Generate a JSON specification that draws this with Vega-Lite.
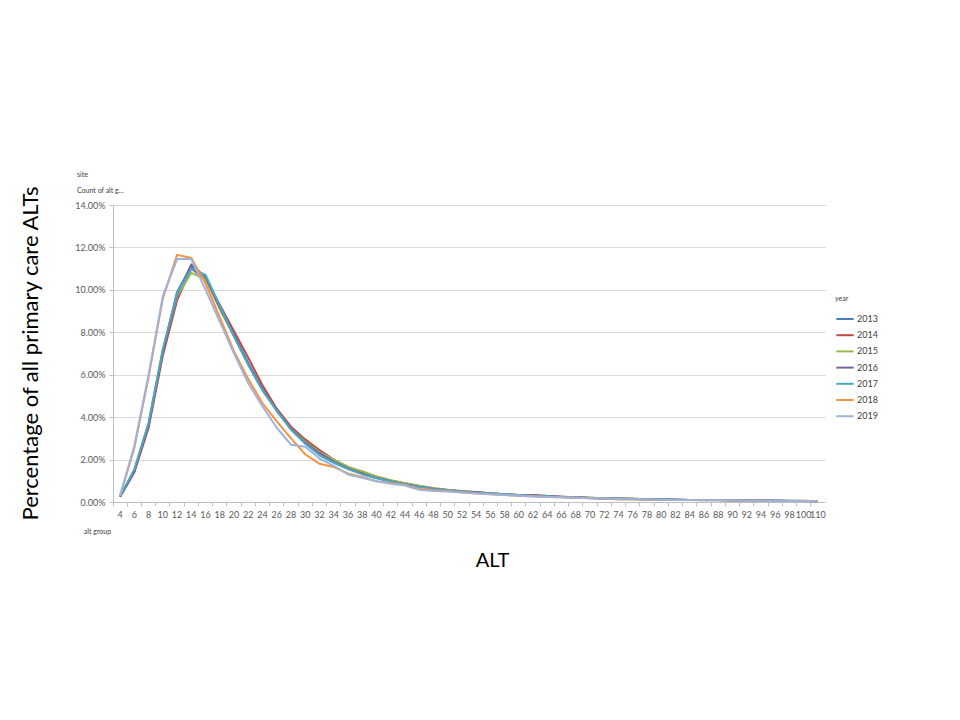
{
  "$schema": "https://vega.github.io/schema/vega-lite/v6.json",
  "description": "ALT distribution in primary care by year, 2013-2019 (Excel pivot chart style).",
  "autosize": {"type": "none"},
  "padding": {"left": 113, "top": 205, "right": 135, "bottom": 218},
  "width": 712,
  "height": 297,
  "background": "white",
  "title": {
    "text": "site",
    "subtitle": "Count of alt g...",
    "anchor": "start",
    "frame": "group",
    "dx": -36,
    "offset": -9,
    "font": "Lato",
    "fontSize": 7,
    "fontWeight": "normal",
    "color": "#404040",
    "subtitleFont": "Lato",
    "subtitleFontSize": 7,
    "subtitleColor": "#404040",
    "subtitlePadding": 9
  },
  "data": {
    "values": [
      {"alt": 4, "2013": 0.25, "2014": 0.25, "2015": 0.26, "2016": 0.25, "2017": 0.27, "2018": 0.30, "2019": 0.30},
      {"alt": 6, "2013": 1.45, "2014": 1.40, "2015": 1.50, "2016": 1.45, "2017": 1.55, "2018": 2.55, "2019": 2.65},
      {"alt": 8, "2013": 3.60, "2014": 3.50, "2015": 3.70, "2016": 3.65, "2017": 3.75, "2018": 5.90, "2019": 6.00},
      {"alt": 10, "2013": 7.10, "2014": 6.90, "2015": 7.20, "2016": 7.10, "2017": 7.20, "2018": 9.60, "2019": 9.70},
      {"alt": 12, "2013": 9.90, "2014": 9.50, "2015": 9.70, "2016": 9.80, "2017": 9.85, "2018": 11.65, "2019": 11.45},
      {"alt": 14, "2013": 11.10, "2014": 11.00, "2015": 10.80, "2016": 11.20, "2017": 11.00, "2018": 11.50, "2019": 11.45},
      {"alt": 16, "2013": 10.65, "2014": 10.50, "2015": 10.50, "2016": 10.60, "2017": 10.70, "2018": 10.30, "2019": 10.00},
      {"alt": 18, "2013": 9.20, "2014": 9.30, "2015": 9.10, "2016": 9.15, "2017": 9.25, "2018": 8.70, "2019": 8.50},
      {"alt": 20, "2013": 7.90, "2014": 8.05, "2015": 7.80, "2016": 7.85, "2017": 7.80, "2018": 7.10, "2019": 7.00},
      {"alt": 22, "2013": 6.55, "2014": 6.80, "2015": 6.50, "2016": 6.50, "2017": 6.45, "2018": 5.80, "2019": 5.60},
      {"alt": 24, "2013": 5.35, "2014": 5.50, "2015": 5.30, "2016": 5.30, "2017": 5.25, "2018": 4.65, "2019": 4.50},
      {"alt": 26, "2013": 4.35, "2014": 4.40, "2015": 4.30, "2016": 4.30, "2017": 4.30, "2018": 3.80, "2019": 3.50},
      {"alt": 28, "2013": 3.50, "2014": 3.55, "2015": 3.45, "2016": 3.45, "2017": 3.40, "2018": 3.00, "2019": 2.70},
      {"alt": 30, "2013": 2.85, "2014": 2.95, "2015": 2.85, "2016": 2.80, "2017": 2.75, "2018": 2.25, "2019": 2.60},
      {"alt": 32, "2013": 2.35, "2014": 2.45, "2015": 2.35, "2016": 2.30, "2017": 2.20, "2018": 1.80, "2019": 2.05},
      {"alt": 34, "2013": 1.95, "2014": 2.00, "2015": 2.00, "2016": 1.90, "2017": 1.85, "2018": 1.65, "2019": 1.70},
      {"alt": 36, "2013": 1.60, "2014": 1.65, "2015": 1.65, "2016": 1.58, "2017": 1.55, "2018": 1.35, "2019": 1.30},
      {"alt": 38, "2013": 1.35, "2014": 1.40, "2015": 1.45, "2016": 1.33, "2017": 1.30, "2018": 1.18, "2019": 1.14},
      {"alt": 40, "2013": 1.15, "2014": 1.20, "2015": 1.20, "2016": 1.13, "2017": 1.12, "2018": 0.98, "2019": 0.98},
      {"alt": 42, "2013": 1.00, "2014": 1.02, "2015": 1.03, "2016": 0.98, "2017": 0.97, "2018": 0.90, "2019": 0.86},
      {"alt": 44, "2013": 0.85, "2014": 0.88, "2015": 0.88, "2016": 0.84, "2017": 0.83, "2018": 0.80, "2019": 0.78},
      {"alt": 46, "2013": 0.72, "2014": 0.75, "2015": 0.77, "2016": 0.72, "2017": 0.71, "2018": 0.62, "2019": 0.58},
      {"alt": 48, "2013": 0.62, "2014": 0.64, "2015": 0.66, "2016": 0.62, "2017": 0.61, "2018": 0.55, "2019": 0.52},
      {"alt": 50, "2013": 0.56, "2014": 0.57, "2015": 0.58, "2016": 0.55, "2017": 0.55, "2018": 0.52, "2019": 0.50},
      {"alt": 52, "2013": 0.50, "2014": 0.51, "2015": 0.52, "2016": 0.50, "2017": 0.49, "2018": 0.46, "2019": 0.45},
      {"alt": 54, "2013": 0.45, "2014": 0.46, "2015": 0.46, "2016": 0.47, "2017": 0.44, "2018": 0.41, "2019": 0.40},
      {"alt": 56, "2013": 0.40, "2014": 0.41, "2015": 0.41, "2016": 0.40, "2017": 0.40, "2018": 0.37, "2019": 0.37},
      {"alt": 58, "2013": 0.36, "2014": 0.37, "2015": 0.37, "2016": 0.36, "2017": 0.36, "2018": 0.33, "2019": 0.33},
      {"alt": 60, "2013": 0.32, "2014": 0.33, "2015": 0.33, "2016": 0.32, "2017": 0.32, "2018": 0.30, "2019": 0.29},
      {"alt": 62, "2013": 0.30, "2014": 0.31, "2015": 0.30, "2016": 0.33, "2017": 0.30, "2018": 0.27, "2019": 0.26},
      {"alt": 64, "2013": 0.27, "2014": 0.28, "2015": 0.27, "2016": 0.28, "2017": 0.27, "2018": 0.24, "2019": 0.24},
      {"alt": 66, "2013": 0.24, "2014": 0.25, "2015": 0.24, "2016": 0.25, "2017": 0.24, "2018": 0.22, "2019": 0.22},
      {"alt": 68, "2013": 0.21, "2014": 0.22, "2015": 0.22, "2016": 0.22, "2017": 0.21, "2018": 0.20, "2019": 0.20},
      {"alt": 70, "2013": 0.19, "2014": 0.20, "2015": 0.20, "2016": 0.19, "2017": 0.19, "2018": 0.18, "2019": 0.18},
      {"alt": 72, "2013": 0.17, "2014": 0.18, "2015": 0.18, "2016": 0.17, "2017": 0.17, "2018": 0.16, "2019": 0.16},
      {"alt": 74, "2013": 0.15, "2014": 0.16, "2015": 0.16, "2016": 0.15, "2017": 0.15, "2018": 0.12, "2019": 0.14},
      {"alt": 76, "2013": 0.14, "2014": 0.15, "2015": 0.15, "2016": 0.14, "2017": 0.15, "2018": 0.12, "2019": 0.13},
      {"alt": 78, "2013": 0.13, "2014": 0.13, "2015": 0.13, "2016": 0.13, "2017": 0.13, "2018": 0.11, "2019": 0.12},
      {"alt": 80, "2013": 0.12, "2014": 0.12, "2015": 0.12, "2016": 0.12, "2017": 0.12, "2018": 0.10, "2019": 0.11},
      {"alt": 82, "2013": 0.11, "2014": 0.11, "2015": 0.11, "2016": 0.11, "2017": 0.11, "2018": 0.10, "2019": 0.10},
      {"alt": 84, "2013": 0.10, "2014": 0.10, "2015": 0.10, "2016": 0.10, "2017": 0.10, "2018": 0.09, "2019": 0.09},
      {"alt": 86, "2013": 0.09, "2014": 0.09, "2015": 0.10, "2016": 0.09, "2017": 0.09, "2018": 0.08, "2019": 0.08},
      {"alt": 88, "2013": 0.09, "2014": 0.10, "2015": 0.09, "2016": 0.10, "2017": 0.09, "2018": 0.08, "2019": 0.08},
      {"alt": 90, "2013": 0.08, "2014": 0.08, "2015": 0.08, "2016": 0.08, "2017": 0.08, "2018": 0.07, "2019": 0.07},
      {"alt": 92, "2013": 0.07, "2014": 0.07, "2015": 0.07, "2016": 0.07, "2017": 0.07, "2018": 0.06, "2019": 0.06},
      {"alt": 94, "2013": 0.07, "2014": 0.07, "2015": 0.07, "2016": 0.06, "2017": 0.07, "2018": 0.06, "2019": 0.06},
      {"alt": 96, "2013": 0.06, "2014": 0.06, "2015": 0.06, "2016": 0.06, "2017": 0.06, "2018": 0.05, "2019": 0.05},
      {"alt": 98, "2013": 0.06, "2014": 0.05, "2015": 0.06, "2016": 0.05, "2017": 0.05, "2018": 0.05, "2019": 0.05},
      {"alt": 100, "2013": 0.05, "2014": 0.06, "2015": 0.05, "2016": 0.05, "2017": 0.05, "2018": 0.05, "2019": 0.04},
      {"alt": 110, "2013": 0.04, "2014": 0.04, "2015": 0.04, "2016": 0.04, "2017": 0.04, "2018": 0.03, "2019": 0.03}
    ]
  },
  "transform": [
    {"fold": ["2013", "2014", "2015", "2016", "2017", "2018", "2019"], "as": ["year", "pct"]}
  ],
  "config": {
    "view": {"stroke": null},
    "font": "Lato"
  },
  "layer": [
    {
      "mark": {"type": "line", "strokeWidth": 2, "strokeJoin": "round"},
      "encoding": {
        "x": {
          "field": "alt",
          "type": "ordinal",
          "scale": {"type": "band", "paddingInner": 0, "paddingOuter": 0},
          "axis": {
            "title": "ALT",
            "titleFont": "Lato",
            "titleFontSize": 20,
            "titleFontWeight": "normal",
            "titleColor": "black",
            "titleX": 379,
            "titleY": 58,
            "titleBaseline": "middle",
            "titleAlign": "center",
            "labelAngle": 0,
            "labelOverlap": false,
            "labelFontSize": 9,
            "labelColor": "#595959",
            "labelPadding": 4,
            "bandPosition": 0,
            "tickSize": 4,
            "tickColor": "#BFBFBF",
            "domainColor": "#BFBFBF",
            "grid": false
          }
        },
        "y": {
          "field": "pct",
          "type": "quantitative",
          "scale": {"domain": [0, 14], "nice": false},
          "axis": {
            "title": "Percentage of all primary care ALTs",
            "titleFont": "Lato",
            "titleFontSize": 22,
            "titleFontWeight": "normal",
            "titleColor": "black",
            "titleX": -83,
            "titleY": 148,
            "titleAngle": -90,
            "titleBaseline": "middle",
            "titleAlign": "center",
            "values": [0, 2, 4, 6, 8, 10, 12, 14],
            "labelExpr": "format(datum.value, '.2f') + '%'",
            "labelFontSize": 9,
            "labelColor": "#595959",
            "labelPadding": 4,
            "tickSize": 4,
            "tickColor": "#BFBFBF",
            "domainColor": "#BFBFBF",
            "gridColor": "#D9D9D9",
            "gridWidth": 1
          }
        },
        "color": {
          "field": "year",
          "type": "nominal",
          "scale": {
            "domain": ["2013", "2014", "2015", "2016", "2017", "2018", "2019"],
            "range": ["#4A7EBB", "#BE4B48", "#98B954", "#7D60A0", "#46AAC5", "#F69240", "#9DB3DD"]
          },
          "legend": {
            "orient": "none",
            "legendX": 722,
            "legendY": 90,
            "title": "year",
            "titleFont": "Lato",
            "titleFontSize": 7,
            "titleFontWeight": "normal",
            "titleColor": "#404040",
            "titlePadding": 7,
            "labelFont": "Lato",
            "labelFontSize": 9,
            "labelColor": "#404040",
            "labelOffset": 2,
            "symbolType": "stroke",
            "symbolSize": 300,
            "symbolStrokeWidth": 2,
            "rowPadding": 1.2
          }
        }
      }
    },
    {
      "mark": {"type": "point", "opacity": 0},
      "encoding": {
        "x": {
          "field": "alt",
          "type": "ordinal",
          "axis": {
            "orient": "top",
            "title": "alt group",
            "titleFont": "Lato",
            "titleFontSize": 7,
            "titleFontWeight": "normal",
            "titleColor": "#404040",
            "titleX": -16,
            "titleY": 326,
            "titleBaseline": "middle",
            "titleAlign": "center",
            "labels": false,
            "ticks": false,
            "domain": false,
            "grid": false
          }
        },
        "y": {"field": "pct", "type": "quantitative"}
      }
    }
  ],
  "resolve": {"axis": {"x": "independent"}}
}
